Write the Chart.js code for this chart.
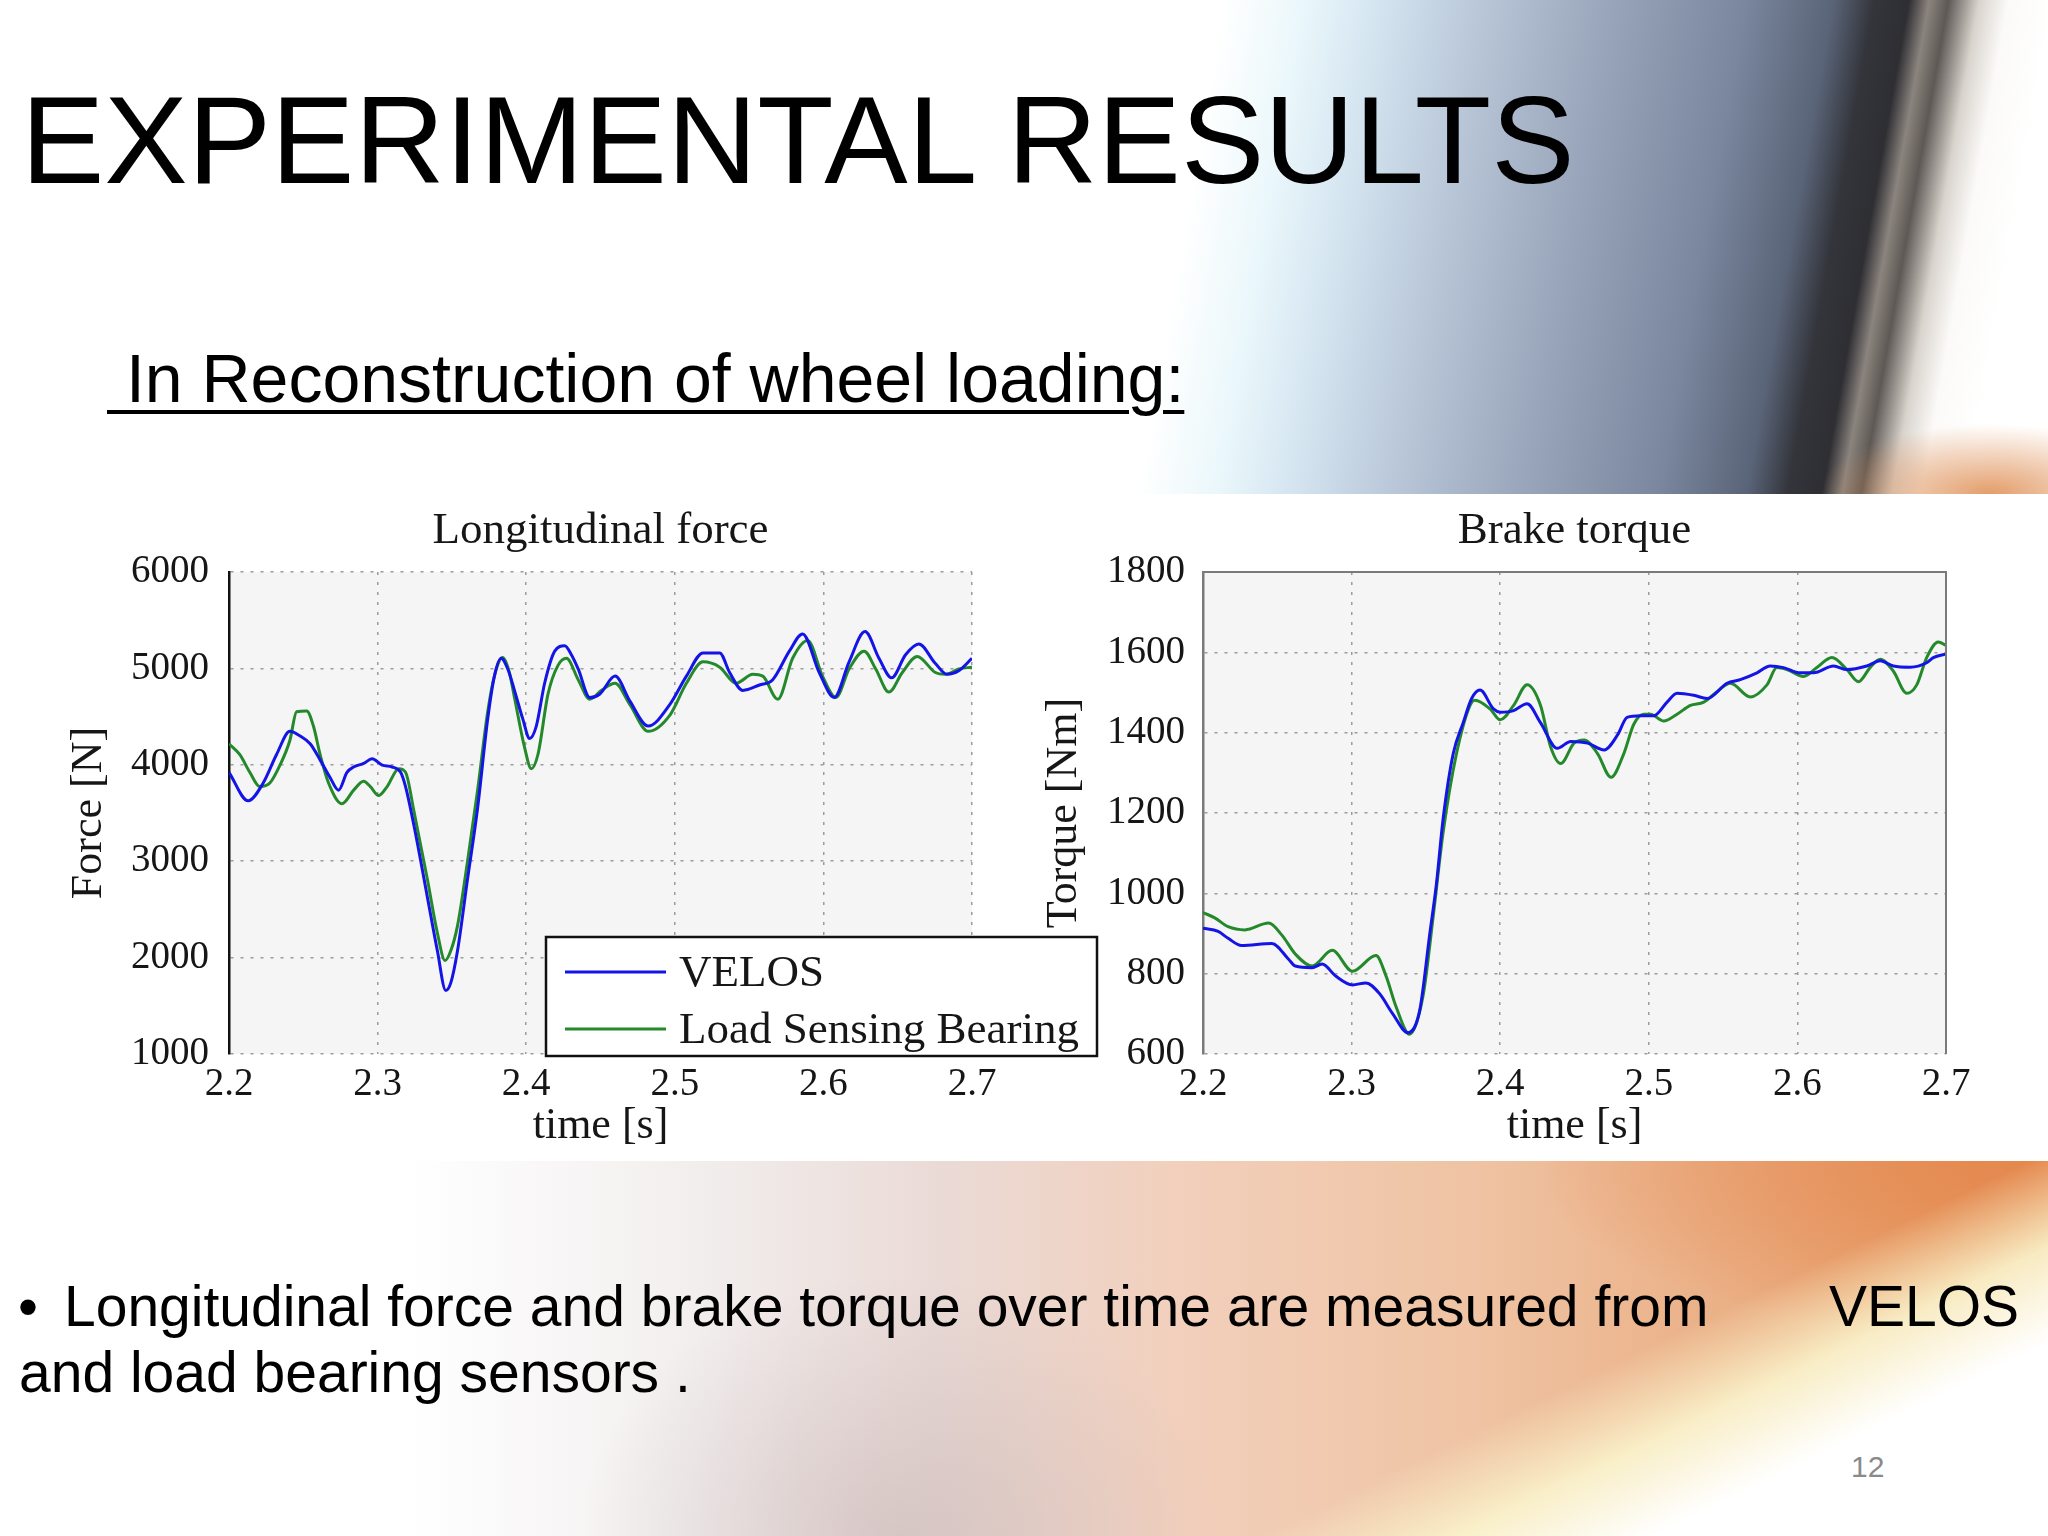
<!DOCTYPE html>
<html>
<head>
<meta charset="utf-8">
<script src="https://cdn.jsdelivr.net/npm/chart.js@4.4.1/dist/chart.umd.min.js"></script>
<style>
  html, body { margin: 0; padding: 0; }
  body {
    width: 2048px; height: 1536px; position: relative; overflow: hidden;
    background: #fff; font-family: "Liberation Sans", Arial, sans-serif; color: #000;
  }
  .bg-top {
    position: absolute; left: 0; top: 0; width: 2048px; height: 494px;
    background:
      radial-gradient(ellipse 170px 70px at 1990px 494px, rgba(222,140,80,0.85), rgba(222,140,80,0) 100%),
      linear-gradient(100deg, #fff 0px, #fff 1205px, #eaf7fb 1284px, #d6e6f1 1353px, #b8c6d8 1461px,
        #98a4b9 1590px, #7a879e 1718px, #5a6478 1806px, #33353b 1846px, #2e2e33 1880px,
        #8b847e 1900px, #5e5955 1919px, #d9d3cd 1949px, #fbfaf8 1978px, #fff 2023px);
  }
  .bg-bottom {
    position: absolute; left: 0; top: 1161px; width: 2048px; height: 375px;
    background:
      linear-gradient(154deg, rgba(255,255,255,0) 0%, rgba(255,255,255,0) 72%, rgba(250,244,205,0.9) 79%, #fff 86%, #fff 100%),
      radial-gradient(ellipse 520px 180px at 2048px 0px, rgba(228,134,76,0.95), rgba(228,134,76,0) 100%),
      radial-gradient(ellipse 320px 260px at 900px 375px, rgba(196,178,178,0.55), rgba(196,178,178,0) 100%),
      linear-gradient(to right, #fff 0%, #fff 20%, #f2eeee 34%, #eadad6 46%, #f2cfbb 58%, #efc3a3 72%, #eaad82 86%, #e6995f 100%);
  }
  .panel { position: absolute; left: 0; top: 494px; width: 2048px; height: 667px; background: #fff; }
  .txt { position: absolute; white-space: pre; line-height: 1; }
  #title { left: 21px; top: 77px; font-size: 125px; }
  #sub {
    left: 107px; top: 344px; font-size: 68px;
    text-decoration: underline; text-decoration-thickness: 4px; text-underline-offset: 8px;
  }
  .body { font-size: 57px; }
  #c1 { position: absolute; left: 40px; top: 494px; }
  #c2 { position: absolute; left: 1030px; top: 494px; }
</style>
</head>
<body>
<div class="bg-top"></div>
<div class="bg-bottom"></div>
<div class="panel"></div>

<div id="title" class="txt">EXPERIMENTAL RESULTS</div>
<div id="sub" class="txt"> In Reconstruction of wheel loading:</div>

<canvas id="c1" width="1060" height="666"></canvas>
<canvas id="c2" width="1018" height="666"></canvas>

<div class="txt body" style="left:18px; top:1278px;">•</div>
<div class="txt body" style="left:64px; top:1278px;">Longitudinal force and brake torque over time are measured from</div>
<div class="txt body" style="left:1829px; top:1278px;">VELOS</div>
<div class="txt body" style="left:19px; top:1344px;">and load bearing sensors .</div>
<div class="txt" style="left:1851px; top:1452px; font-size:30px; color:#8a8a8a;">12</div>

<script>
const timeTicks = [2.2, 2.3, 2.4, 2.5, 2.6, 2.7];
const forceTicks = [1000, 2000, 3000, 4000, 5000, 6000];
const torqueTicks = [600, 800, 1000, 1200, 1400, 1600, 1800];
const seriesNames = ['VELOS', 'Load Sensing Bearing'];

// longitudinal force, VELOS
const forceVelosT = [2.2, 2.2129, 2.223, 2.232, 2.241, 2.2478, 2.2546, 2.2613, 2.2681, 2.2737,
  2.2794, 2.2839, 2.2906, 2.2963, 2.3031, 2.3098, 2.3155, 2.3188, 2.3245, 2.3335,
  2.3402, 2.3459, 2.3493, 2.3538, 2.3605, 2.3673, 2.3741, 2.3786, 2.3831, 2.3876,
  2.3921, 2.3977, 2.4023, 2.4068, 2.4124, 2.4192, 2.4259, 2.4304, 2.435, 2.4428,
  2.4496, 2.4598, 2.4698, 2.4821, 2.4966, 2.5078, 2.519, 2.5302, 2.5369, 2.5458,
  2.557, 2.5659, 2.5771, 2.586, 2.5972, 2.6073, 2.6173, 2.628, 2.6374, 2.6459,
  2.6553, 2.6642, 2.6754, 2.6832, 2.6911, 2.7];
const forceVelosY = [3922, 3626, 3811, 4107, 4347, 4299, 4218, 4051, 3866, 3737,
  3922, 3977, 4014, 4062, 3996, 3977, 3922, 3774, 3367, 2627,
  2073, 1659, 1740, 2073, 2812, 3552, 4476, 4920, 5105, 4994,
  4772, 4476, 4273, 4402, 4846, 5179, 5234, 5142, 4994, 4698,
  4735, 4920, 4661, 4402, 4624, 4920, 5161, 5161, 4957, 4772,
  4828, 4883, 5179, 5357, 4957, 4698, 5068, 5382, 5105, 4902,
  5142, 5253, 5050, 4939, 4976, 5105];

// longitudinal force, load sensing bearing
const forceLsbT = [2.2, 2.2072, 2.214, 2.2207, 2.2275, 2.2343, 2.241, 2.2455, 2.2523, 2.2568,
  2.2613, 2.267, 2.276, 2.2839, 2.2906, 2.2951, 2.3008, 2.3064, 2.3143, 2.3188,
  2.3245, 2.3335, 2.3402, 2.3454, 2.3493, 2.3538, 2.3605, 2.3673, 2.3741, 2.3786,
  2.3842, 2.3887, 2.3921, 2.3989, 2.4034, 2.4079, 2.4147, 2.4214, 2.4271, 2.435,
  2.4428, 2.4507, 2.4598, 2.4698, 2.4821, 2.4966, 2.5078, 2.519, 2.5302, 2.5413,
  2.5525, 2.5592, 2.5693, 2.5793, 2.5894, 2.5994, 2.6084, 2.6173, 2.6274, 2.6352,
  2.6441, 2.6531, 2.6631, 2.6754, 2.6821, 2.6911, 2.7];
const forceLsbY = [4218, 4107, 3922, 3774, 3811, 3996, 4255, 4550, 4558, 4402,
  4107, 3811, 3596, 3737, 3829, 3774, 3681, 3774, 3959, 3922,
  3515, 2812, 2258, 1969, 2073, 2332, 2997, 3737, 4550, 4920,
  5112, 4957, 4698, 4181, 3959, 4107, 4735, 5031, 5105, 4883,
  4680, 4772, 4846, 4624, 4347, 4513, 4846, 5068, 5013, 4846,
  4939, 4920, 4680, 5105, 5290, 4920, 4698, 4994, 5179, 4994,
  4754, 4957, 5124, 4957, 4939, 4994, 5013];

// brake torque, VELOS
const torqueVelosT = [2.2, 2.2102, 2.2169, 2.226, 2.2463, 2.2576, 2.2621, 2.2734, 2.2802, 2.2893,
  2.3006, 2.3096, 2.3186, 2.3277, 2.3379, 2.3458, 2.3525, 2.3571, 2.3616, 2.3684,
  2.3751, 2.3808, 2.3864, 2.3955, 2.4, 2.409, 2.4181, 2.4271, 2.4384, 2.4475,
  2.4588, 2.47, 2.4791, 2.4854, 2.4944, 2.5034, 2.5123, 2.519, 2.5302, 2.5392,
  2.5526, 2.5616, 2.5728, 2.5817, 2.5907, 2.6019, 2.6109, 2.6243, 2.6333, 2.6467,
  2.6557, 2.6646, 2.6758, 2.687, 2.6915, 2.7];
const torqueVelosY = [913, 905, 888, 870, 875, 836, 819, 815, 824, 794,
  772, 777, 751, 700, 653, 708, 896, 1024, 1186, 1348,
  1425, 1485, 1506, 1459, 1451, 1455, 1472, 1425, 1361, 1378,
  1374, 1357, 1395, 1438, 1442, 1442, 1476, 1498, 1493, 1485,
  1523, 1532, 1549, 1566, 1562, 1549, 1549, 1566, 1557, 1566,
  1579, 1566, 1563, 1574, 1587, 1596];

// brake torque, load sensing bearing
const torqueLsbT = [2.2, 2.2079, 2.2169, 2.2282, 2.2441, 2.2531, 2.2621, 2.2734, 2.287, 2.3006,
  2.3164, 2.3232, 2.33, 2.339, 2.348, 2.3548, 2.3616, 2.3706, 2.3797, 2.383,
  2.3932, 2.4, 2.409, 2.4181, 2.4271, 2.4339, 2.4407, 2.4497, 2.4565, 2.4655,
  2.4746, 2.4832, 2.4899, 2.4966, 2.5011, 2.5101, 2.519, 2.528, 2.537, 2.5459,
  2.5549, 2.5683, 2.5795, 2.5862, 2.5929, 2.6041, 2.6131, 2.6232, 2.6333, 2.6411,
  2.6489, 2.6557, 2.6646, 2.6736, 2.6803, 2.687, 2.6948, 2.7];
const torqueLsbY = [952, 939, 917, 909, 926, 896, 849, 819, 858, 806,
  845, 794, 717, 649, 743, 939, 1152, 1348, 1468, 1481,
  1459, 1432, 1468, 1519, 1468, 1365, 1323, 1374, 1382, 1348,
  1289, 1348, 1421, 1446, 1446, 1429, 1446, 1468, 1476, 1502,
  1523, 1489, 1519, 1562, 1557, 1540, 1562, 1587, 1557, 1527,
  1562, 1583, 1553, 1498, 1519, 1587, 1626, 1617];

const serif = '"Liberation Serif", "Times New Roman", serif';
const ink = '#161616';
const blue = '#1414e6';
const green = '#23892b';

const pts = (xs, ys) => xs.map((x, i) => ({ x, y: ys[i] }));

// grey plot background, optional solid frame on top/right, boxed legend
const plotDecor = {
  id: 'plotDecor',
  beforeDraw(chart, args, opts) {
    const { ctx, chartArea: a } = chart;
    ctx.save();
    ctx.fillStyle = opts.fill;
    ctx.fillRect(a.left, a.top, a.right - a.left, a.bottom - a.top);
    ctx.restore();
  },
  afterDraw(chart, args, opts) {
    const { ctx, chartArea: a } = chart;
    if (opts.frame) {
      ctx.save();
      ctx.strokeStyle = opts.frame;
      ctx.lineWidth = 2;
      ctx.beginPath();
      ctx.moveTo(a.left, a.top);
      ctx.lineTo(a.right, a.top);
      ctx.lineTo(a.right, a.bottom);
      ctx.stroke();
      ctx.restore();
    }
    if (opts.legend) {
      const x0 = a.left + 317, w = 551, h = 119, y0 = a.bottom + 2 - h;
      ctx.save();
      ctx.fillStyle = '#fff';
      ctx.fillRect(x0, y0, w, h);
      ctx.strokeStyle = '#111';
      ctx.lineWidth = 2.5;
      ctx.strokeRect(x0, y0, w, h);
      ctx.font = '45px ' + serif;
      ctx.textBaseline = 'middle';
      chart.data.datasets.forEach((ds, i) => {
        const y = y0 + 35 + i * 57;
        ctx.strokeStyle = ds.borderColor;
        ctx.lineWidth = 3;
        ctx.beginPath();
        ctx.moveTo(x0 + 19, y);
        ctx.lineTo(x0 + 120, y);
        ctx.stroke();
        ctx.fillStyle = ink;
        ctx.fillText(ds.label, x0 + 133, y + 2);
      });
      ctx.restore();
    }
  }
};

function makeChart(id, opt) {
  const ctx = document.getElementById(id).getContext('2d');
  return new Chart(ctx, {
    type: 'scatter',
    data: {
      datasets: [{
        label: seriesNames[0],
        data: pts(opt.velosT, opt.velosY),
        borderColor: blue,
        backgroundColor: blue,
        borderWidth: 3,
        showLine: true,
        pointRadius: 0,
        cubicInterpolationMode: 'monotone'
      }, {
        label: seriesNames[1],
        data: pts(opt.lsbT, opt.lsbY),
        borderColor: green,
        backgroundColor: green,
        borderWidth: 3,
        showLine: true,
        pointRadius: 0,
        cubicInterpolationMode: 'monotone'
      }]
    },
    options: {
      responsive: false,
      animation: false,
      layout: { padding: { left: 0, right: opt.padRight, top: 0, bottom: 0 } },
      scales: {
        x: {
          type: 'linear',
          min: 2.2,
          max: 2.7,
          afterBuildTicks: s => { s.ticks = timeTicks.map(v => ({ value: v })); },
          afterFit: s => { s.height = 106; },
          ticks: {
            padding: 7,
            color: ink,
            font: { family: serif, size: 39 },
            maxRotation: 0,
            callback: v => v.toFixed(1)
          },
          grid: { color: '#9c9c9c', lineWidth: 1.5, drawTicks: false },
          border: { display: false, dash: [3, 7] },
          title: {
            display: true,
            text: 'time [s]',
            color: ink,
            font: { family: serif, size: 44 },
            padding: { top: 0, bottom: 7 }
          }
        },
        y: {
          type: 'linear',
          min: opt.yTicks[0],
          max: opt.yTicks[opt.yTicks.length - 1],
          afterBuildTicks: s => { s.ticks = opt.yTicks.map(v => ({ value: v })); },
          afterFit: s => { s.width = opt.yWidth; },
          ticks: {
            padding: opt.tickPad,
            color: ink,
            font: { family: serif, size: 39 },
            callback: v => String(v)
          },
          grid: { color: '#9c9c9c', lineWidth: 1.5, drawTicks: false },
          border: { display: true, color: opt.axisColor, width: 2.5, dash: [3, 7] },
          title: {
            display: true,
            text: opt.yTitle,
            color: ink,
            font: { family: serif, size: 44 },
            padding: { top: opt.yTitlePad, bottom: 0 }
          }
        }
      },
      plugins: {
        legend: { display: false },
        tooltip: { enabled: false },
        title: {
          display: true,
          fullSize: false,
          text: opt.title,
          color: ink,
          font: { family: serif, size: 45, weight: 'normal' },
          padding: { top: 10, bottom: 14 }
        },
        plotDecor: { fill: '#f5f5f5', frame: opt.frame, legend: opt.legend }
      }
    },
    plugins: [plotDecor]
  });
}

makeChart('c1', {
  title: 'Longitudinal force',
  yTitle: 'Force [N]',
  yTicks: forceTicks,
  velosT: forceVelosT, velosY: forceVelosY,
  lsbT: forceLsbT, lsbY: forceLsbY,
  yWidth: 189, tickPad: 20, yTitlePad: 23, padRight: 128,
  axisColor: '#111', frame: null, legend: true
});

makeChart('c2', {
  title: 'Brake torque',
  yTitle: 'Torque [Nm]',
  yTicks: torqueTicks,
  velosT: torqueVelosT, velosY: torqueVelosY,
  lsbT: torqueLsbT, lsbY: torqueLsbY,
  yWidth: 173, tickPad: 18, yTitlePad: 8, padRight: 102,
  axisColor: '#7a7a7a', frame: '#7a7a7a', legend: false
});
</script>
</body>
</html>
